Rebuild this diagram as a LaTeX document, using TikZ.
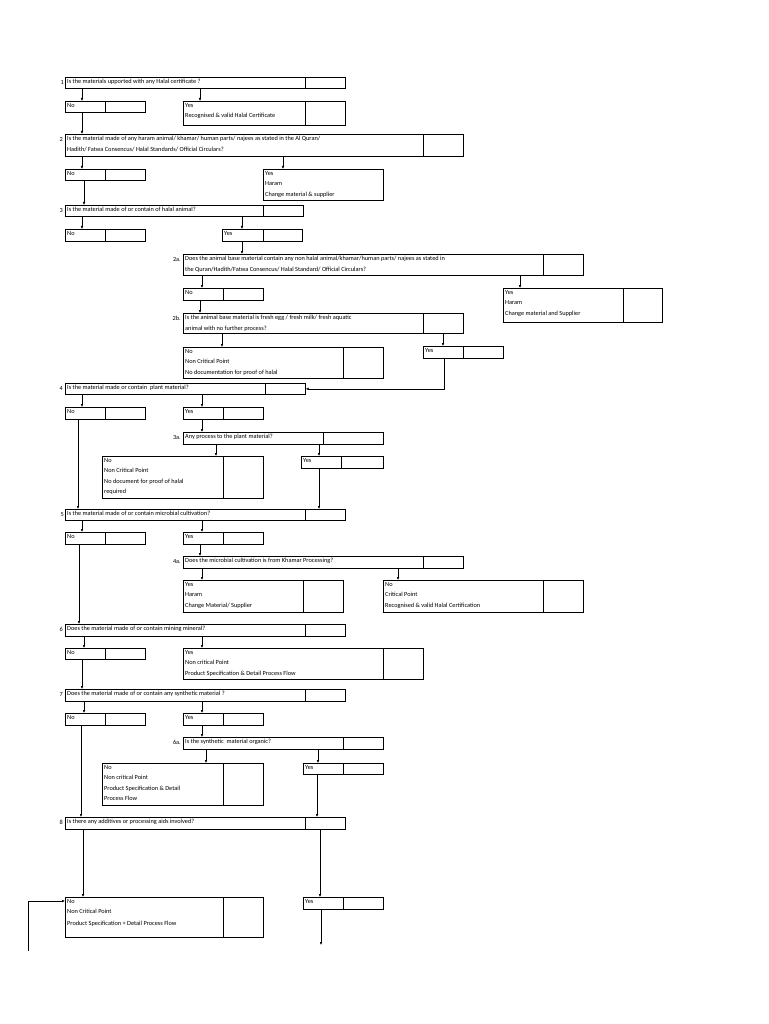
\documentclass[tikz,border=0pt]{standalone}
\usepackage{fontspec}
\setmainfont{Carlito}
\usetikzlibrary{arrows.meta}
\tikzset{
  bx/.style={draw=black,line width=0.7pt,anchor=north west,inner sep=0pt},
  tx/.style={anchor=north west,inner sep=0pt,align=left,font=\fontsize{6.3}{10.5}\selectfont},
  lb/.style={anchor=east,inner sep=0pt,font=\fontsize{6.3}{10.5}\selectfont},
  arr/.style={line width=0.5pt,-{Latex[length=3pt,width=2.6pt]}},
  dv/.style={line width=0.7pt}
}
\newcommand\qb[7]{%
  \node[bx,minimum width={(#4-#2)*1pt},minimum height={(#5-#3)*1pt}] (#1) at (#2,-#3) {};
  \node[tx] (#1-t) at (#2+2,-#3-2) {#7};
  \draw[dv] (#6,-#3) -- (#6,-#5);}
\newcommand\qbn[6]{%
  \node[bx,minimum width={(#4-#2)*1pt},minimum height={(#5-#3)*1pt}] (#1) at (#2,-#3) {};
  \node[tx] (#1-t) at (#2+2,-#3-2) {#6};}
\newcommand\lab[4]{\node[lb] (#1) at (#2,-#3) {#4};}
\newcommand\ar[4]{\draw[arr] (#1.south -| #3,0) -- (#2.north -| #4,0);}
\begin{document}
\begin{tikzpicture}[x=1pt,y=1pt]
\useasboundingbox (0,0) rectangle (768,-1024);
\fill[white] (0,0) rectangle (768,-1024);
% 1
\lab{l1}{64}{82.5}{1}
\qb{q1}{65}{77}{345}{88}{305}{Is the materials upported with any Halal certificate ?}
\qb{no1}{65}{101}{145}{112}{105}{No}
\qb{yes1}{183}{101}{345}{125}{305}{Yes\\Recognised \& valid Halal Certificate}
\ar{q1}{no1}{82}{82}\ar{q1}{yes1}{200}{200}
% 2
\lab{l2}{63}{139}{2}
\qb{q2}{65}{134}{463}{156}{423}{Is the material made of any haram animal/ khamar/ human parts/ najees as stated in the Al Quran/\\Hadith/ Fatwa Consencus/ Halal Standards/ Official Circulars?}
\ar{no1}{q2}{82}{82}
\qb{no2}{65}{169}{145}{180}{105}{No}
\qbn{yes2}{263}{169}{383}{200}{Yes\\Haram\\Change material \& supplier}
\ar{q2}{no2}{82}{82}\ar{q2}{yes2}{283}{283}
% 3
\lab{l3}{63}{210.5}{3}
\qb{q3}{65}{205}{303}{216}{263}{Is the material made of or contain of halal animal?}
\ar{no2}{q3}{84}{84}
\qb{no3}{65}{229}{145}{241}{105}{No}
\qb{yes3}{222}{229}{302}{241}{263}{Yes}
\ar{q3}{no3}{82}{82}\ar{q3}{yes3}{242}{242}
% 2a
\lab{l2a}{181}{259}{2a.}
\qb{q2a}{183}{254}{583}{275}{543}{Does the animal base material contain any non halal animal/khamar/human parts/ najees as stated in\\the Quran/Hadith/Fatwa Consencus/ Halal Standard/ Official Circulars?}
\ar{yes3}{q2a}{242}{242}
\qb{no2a}{183}{288}{263}{300}{223}{No}
\qb{yes2a}{503}{288}{662}{322}{623}{Yes\\Haram\\Change material and Supplier}
\ar{q2a}{no2a}{202}{202}\ar{q2a}{yes2a}{520}{520}
% 2b
\lab{l2b}{181}{318}{2b.}
\qb{q2b}{183}{313}{463}{333}{423}{Is the animal base material is fresh egg / fresh milk/ fresh aquatic\\animal with no further process?}
\ar{no2a}{q2b}{200}{200}
\qb{nc2b}{183}{347}{383}{378}{343}{No\\Non Critical Point\\No documentation for proof of halal}
\qb{yes2b}{423}{346}{503}{358}{463}{Yes}
\ar{q2b}{nc2b}{222}{222}\ar{q2b}{yes2b}{443}{443}
% 4
\lab{l4}{63}{388.5}{4}
\qb{q4}{65}{383}{305}{394}{265}{Is the material made or contain\ \ plant material?}
\draw[arr] (yes2b.south -| 444,0) |- (q4.east);
\qb{no4}{65}{407}{145}{419}{105}{No}
\qb{yes4}{183}{407}{263}{419}{223}{Yes}
\ar{q4}{no4}{82}{82}\ar{q4}{yes4}{202}{202}
% 3a
\lab{l3a}{181}{437.5}{3a.}
\qb{q3a}{183}{432}{383}{444}{323}{Any process to the plant material?}
\ar{yes4}{q3a}{202}{202}
\qb{nc3a}{102}{456}{263}{498}{223}{No\\Non Critical Point\\No document for proof of halal\\required}
\qb{yes3a}{301}{456}{383}{468}{341}{Yes}
\ar{q3a}{nc3a}{216}{216}\ar{q3a}{yes3a}{319}{319}
% 5
\lab{l5}{64}{514.5}{5}
\qb{q5}{65}{509}{345}{520}{305}{Is the material made of or contain microbial cultivation?}
\ar{no4}{q5}{78}{78}\ar{yes3a}{q5}{319}{319}
\qb{no5}{65}{532}{145}{544}{105}{No}
\qb{yes5}{183}{532}{263}{544}{223}{Yes}
\ar{q5}{no5}{82}{82}\ar{q5}{yes5}{202}{202}
% 4a
\lab{l4a}{181}{561.5}{4a.}
\qb{q4a}{183}{556}{463}{568}{423}{Does the microbial cultivation is from Khamar Processing?}
\ar{yes5}{q4a}{200}{200}
\qb{yes4a}{183}{580}{343}{612}{303}{Yes\\Haram\\Change Material/ Supplier}
\qb{no4a}{383}{580}{583}{612}{543}{No\\Critical Point\\Recognised \& valid Halal Certification}
\ar{q4a}{yes4a}{202}{202}\ar{q4a}{no4a}{398}{398}
% 6
\lab{l6}{63}{629.5}{6}
\qb{q6}{65}{624}{345}{636}{305}{Does the material made of or contain mining mineral?}
\ar{no5}{q6}{79}{79}
\qb{no6}{65}{648}{145}{659}{105}{No}
\qb{yes6}{183}{648}{423}{679}{383}{Yes\\Non critical Point\\Product Specification \& Detail Process Flow}
\ar{q6}{no6}{84}{84}\ar{q6}{yes6}{202}{202}
% 7
\lab{l7}{63}{694.5}{7}
\qb{q7}{65}{689}{345}{701}{305}{Does the material made of or contain any synthetic material ?}
\ar{no6}{q7}{82}{82}
\qb{no7}{65}{713}{145}{725}{105}{No}
\qb{yes7}{183}{713}{263}{725}{223}{Yes}
\ar{q7}{no7}{84}{84}\ar{q7}{yes7}{202}{202}
% 6a
\lab{l6a}{181}{742.5}{6a.}
\qb{q6a}{183}{737}{383}{749}{343}{Is the synthetic\ \ material organic?}
\ar{yes7}{q6a}{202}{202}
\qb{nc6a}{102}{763}{263}{805}{223}{No\\Non critical Point\\Product Specification \& Detail\\Process Flow}
\qb{yes6a}{303}{763}{383}{774}{343}{Yes}
\ar{q6a}{nc6a}{206}{206}\ar{q6a}{yes6a}{318}{318}
% 8
\lab{l8}{63}{822.5}{8}
\qb{q8}{65}{817}{345}{829}{305}{Is there any additives or processing aids involved?}
\ar{no7}{q8}{81}{81}\ar{yes6a}{q8}{317}{317}
\qb{nc8}{65}{897}{263}{937}{223}{No\\Non Critical Point\\[1pt]Product Specification + Detail Process Flow}
\qb{yes8}{303}{897}{383}{909}{343}{Yes}
\ar{q8}{nc8}{83}{83}\ar{q8}{yes8}{320}{320}
\coordinate (end8) at (321,-945);
\draw[arr] (yes8.south -| 321,0) -- (end8);
\coordinate (back) at (28,-951);
\draw[arr] (back) |- (nc8.west |- 0,-901);
\end{tikzpicture}
\end{document}
